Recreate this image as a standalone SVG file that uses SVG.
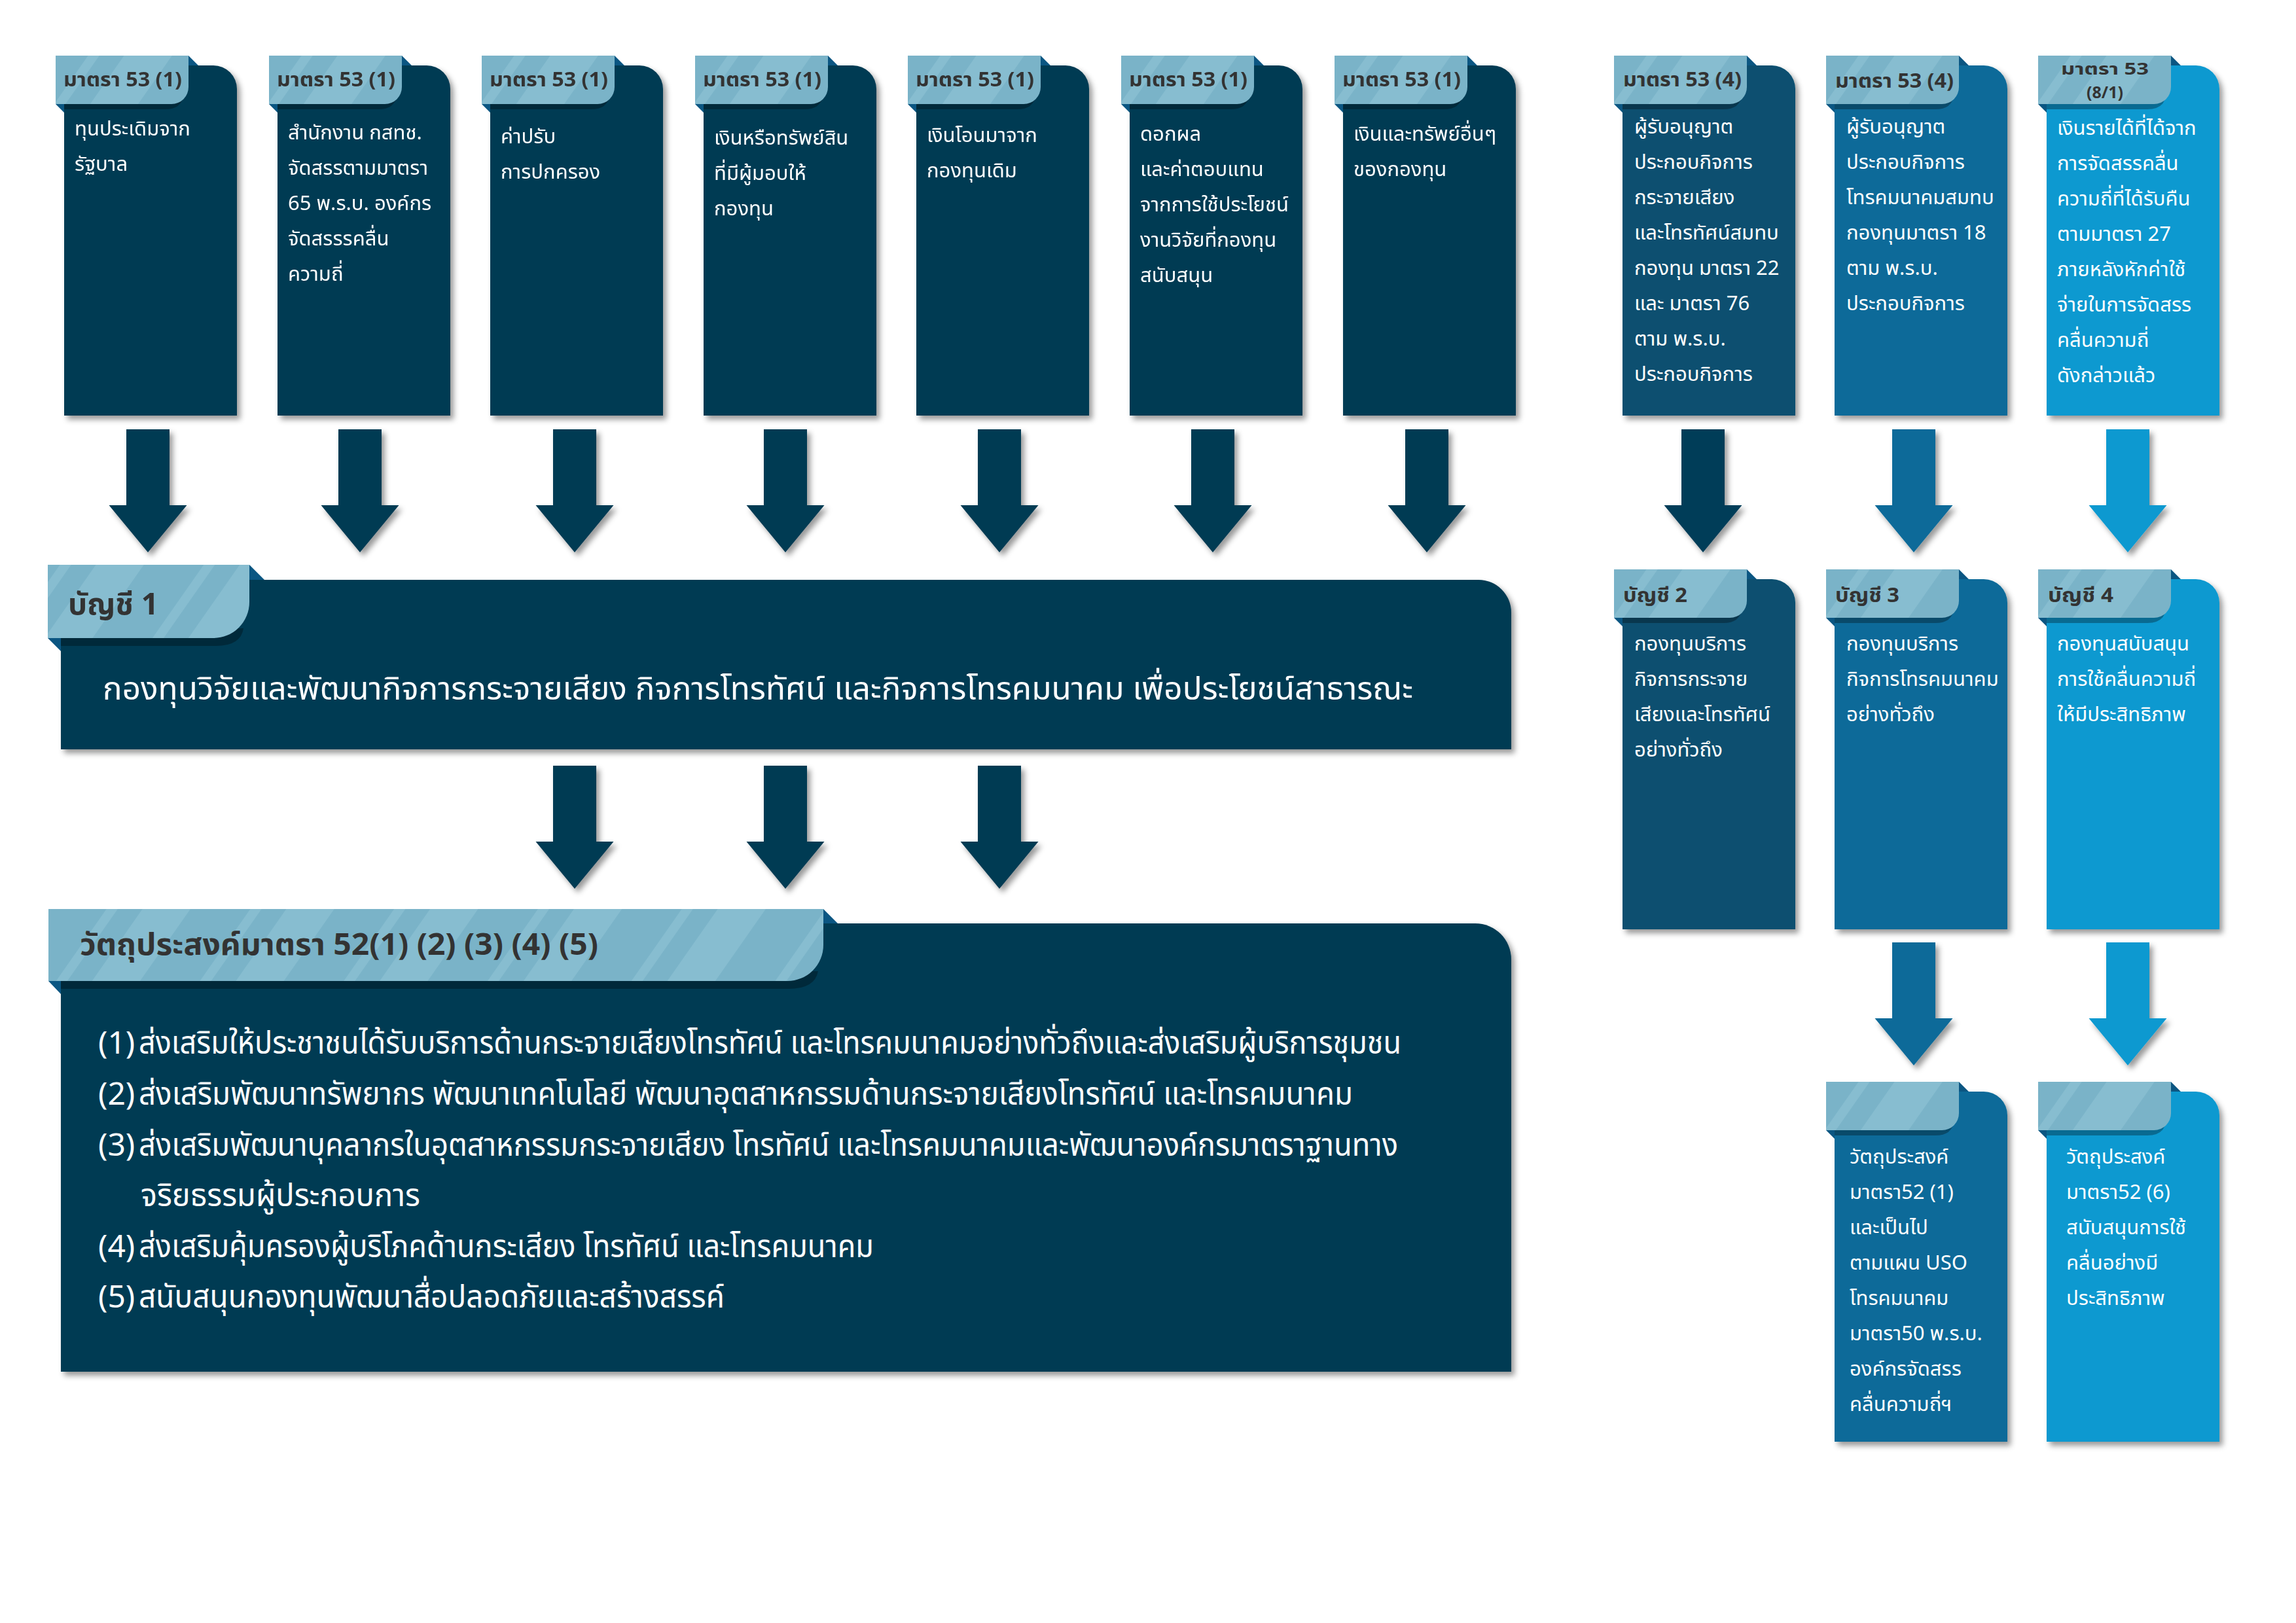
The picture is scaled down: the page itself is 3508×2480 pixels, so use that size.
<svg xmlns="http://www.w3.org/2000/svg" xmlns:xlink="http://www.w3.org/1999/xlink" width="3508" height="2480" viewBox="0 0 3508 2480">
<defs>
<style>
.navy{fill:#063a52}.c2{fill:#074f6f}.c2a{fill:#063e59}.c3{fill:#0b6b99}.c4{fill:#0e99d0}
.tab{fill:url(#stripes)}
.fold{fill:#0b5682}
.strip{fill:#000;opacity:.3}
.sh{filter:url(#ds)}
.lbl{font-family:'Noto Sans Thai','Noto Sans Thai UI','Noto Sans','Liberation Sans',sans-serif;font-weight:700;fill:#333;font-size:30px}
.t{font-family:'Noto Sans Thai','Noto Sans Thai UI','Noto Sans','Liberation Sans',sans-serif;fill:#fff;font-size:31px}
.big{font-size:48px}
.bl{font-size:46px}
.sm{font-size:25px}
</style>
<filter id="ds" x="-10%" y="-10%" width="130%" height="130%">
<feDropShadow dx="5" dy="6" stdDeviation="4" flood-color="#000" flood-opacity="0.4"/>
</filter>
<pattern id="stripes" patternUnits="userSpaceOnUse" width="180" height="600" patternTransform="rotate(35)">
<rect width="180" height="600" fill="#7ab3c8"/>
<rect x="30" width="14" height="600" fill="#87bdd0"/>
<rect x="75" width="60" height="600" fill="#87bdd0"/>
</pattern>
<path id="sbody" d="M0,15 H228 A36,36 0 0 1 264,51 V550 H0 Z"/>
<g id="stab">
<path class="fold" d="M190,0 L205,15 H190 Z M-13,74 H0 V87 Z"/>
<path class="strip" d="M0,60 H182 Q180,82 154,82 H0 Z"/>
<path class="tab" d="M-13,0 H190 V48 A26,26 0 0 1 164,74 H-13 Z"/>
</g>
<path id="arr" d="M-33,0 H33 V116 H59.5 L0,188 L-59.5,116 H-33 Z"/>
</defs>
<rect width="3508" height="2480" fill="#fff"/>

<g id="connectors">
<g class="navy sh">
<use href="#arr" transform="translate(226,656)"/>
<use href="#arr" transform="translate(550,656)"/>
<use href="#arr" transform="translate(878,656)"/>
<use href="#arr" transform="translate(1200,656)"/>
<use href="#arr" transform="translate(1527,656)"/>
<use href="#arr" transform="translate(1853,656)"/>
<use href="#arr" transform="translate(2180,656)"/>
<use href="#arr" transform="translate(878,1170)"/>
<use href="#arr" transform="translate(1200,1170)"/>
<use href="#arr" transform="translate(1527,1170)"/>
</g>
<use href="#arr" class="c2a sh" transform="translate(2602,656)"/>
<use href="#arr" class="c3 sh" transform="translate(2924,656)"/>
<use href="#arr" class="c4 sh" transform="translate(3251,656)"/>
<use href="#arr" class="c3 sh" transform="translate(2924,1440)"/>
<use href="#arr" class="c4 sh" transform="translate(3251,1440)"/>
</g>

<g id="card-1" transform="translate(98,85)">
<use href="#sbody" class="navy sh"/><use href="#stab"/>
<text class="lbl" x="-1" y="47" textLength="181" lengthAdjust="spacingAndGlyphs">มาตรา 53 (1)</text>
<text class="t" x="16" y="122">ทุนประเดิมจาก</text>
<text class="t" x="16" y="176">รัฐบาล</text>
</g>
<g id="card-2" transform="translate(424,85)">
<use href="#sbody" class="navy sh"/><use href="#stab"/>
<text class="lbl" x="-1" y="47" textLength="181" lengthAdjust="spacingAndGlyphs">มาตรา 53 (1)</text>
<text class="t" x="16" y="128">สำนักงาน กสทช.</text>
<text class="t" x="16" y="182">จัดสรรตามมาตรา</text>
<text class="t" x="16" y="236">65 พ.ร.บ. องค์กร</text>
<text class="t" x="16" y="290">จัดสรรรคลื่น</text>
<text class="t" x="16" y="344">ความถี่</text>
</g>
<g id="card-3" transform="translate(749,85)">
<use href="#sbody" class="navy sh"/><use href="#stab"/>
<text class="lbl" x="-1" y="47" textLength="181" lengthAdjust="spacingAndGlyphs">มาตรา 53 (1)</text>
<text class="t" x="16" y="134">ค่าปรับ</text>
<text class="t" x="16" y="188">การปกครอง</text>
</g>
<g id="card-4" transform="translate(1075,85)">
<use href="#sbody" class="navy sh"/><use href="#stab"/>
<text class="lbl" x="-1" y="47" textLength="181" lengthAdjust="spacingAndGlyphs">มาตรา 53 (1)</text>
<text class="t" x="16" y="136">เงินหรือทรัพย์สิน</text>
<text class="t" x="16" y="190">ที่มีผู้มอบให้</text>
<text class="t" x="16" y="244">กองทุน</text>
</g>
<g id="card-5" transform="translate(1400,85)">
<use href="#sbody" class="navy sh"/><use href="#stab"/>
<text class="lbl" x="-1" y="47" textLength="181" lengthAdjust="spacingAndGlyphs">มาตรา 53 (1)</text>
<text class="t" x="16" y="132">เงินโอนมาจาก</text>
<text class="t" x="16" y="186">กองทุนเดิม</text>
</g>
<g id="card-6" transform="translate(1726,85)">
<use href="#sbody" class="navy sh"/><use href="#stab"/>
<text class="lbl" x="-1" y="47" textLength="181" lengthAdjust="spacingAndGlyphs">มาตรา 53 (1)</text>
<text class="t" x="16" y="130">ดอกผล</text>
<text class="t" x="16" y="184">และค่าตอบแทน</text>
<text class="t" x="16" y="238">จากการใช้ประโยชน์</text>
<text class="t" x="16" y="292">งานวิจัยที่กองทุน</text>
<text class="t" x="16" y="346">สนับสนุน</text>
</g>
<g id="card-7" transform="translate(2052,85)">
<use href="#sbody" class="navy sh"/><use href="#stab"/>
<text class="lbl" x="-1" y="47" textLength="181" lengthAdjust="spacingAndGlyphs">มาตรา 53 (1)</text>
<text class="t" x="16" y="130">เงินและทรัพย์อื่นๆ</text>
<text class="t" x="16" y="184">ของกองทุน</text>
</g>

<g id="card-r1" transform="translate(2479,85)">
<use href="#sbody" class="c2 sh"/><use href="#stab"/>
<text class="lbl" x="1" y="47" textLength="181" lengthAdjust="spacingAndGlyphs">มาตรา 53 (4)</text>
<text class="t" x="18" y="119">ผู้รับอนุญาต</text>
<text class="t" x="18" y="173">ประกอบกิจการ</text>
<text class="t" x="18" y="227">กระจายเสียง</text>
<text class="t" x="18" y="281">และโทรทัศน์สมทบ</text>
<text class="t" x="18" y="335">กองทุน มาตรา 22</text>
<text class="t" x="18" y="389">และ มาตรา 76</text>
<text class="t" x="18" y="443">ตาม พ.ร.บ.</text>
<text class="t" x="18" y="497">ประกอบกิจการ</text>
</g>
<g id="card-r2" transform="translate(2803,85)">
<use href="#sbody" class="c3 sh"/><use href="#stab"/>
<text class="lbl" x="1" y="49" textLength="181" lengthAdjust="spacingAndGlyphs">มาตรา 53 (4)</text>
<text class="t" x="18" y="119">ผู้รับอนุญาต</text>
<text class="t" x="18" y="173">ประกอบกิจการ</text>
<text class="t" x="18" y="227">โทรคมนาคมสมทบ</text>
<text class="t" x="18" y="281">กองทุนมาตรา 18</text>
<text class="t" x="18" y="335">ตาม พ.ร.บ.</text>
<text class="t" x="18" y="389">ประกอบกิจการ</text>
</g>
<g id="card-r3" transform="translate(3127,85)">
<use href="#sbody" class="c4 sh"/><use href="#stab"/>
<text class="lbl sm" x="89" y="29" text-anchor="middle" textLength="134" lengthAdjust="spacingAndGlyphs">มาตรา 53</text>
<text class="lbl sm" x="89" y="65" text-anchor="middle">(8/1)</text>
<text class="t" x="16" y="121">เงินรายได้ที่ได้จาก</text>
<text class="t" x="16" y="175">การจัดสรรคลื่น</text>
<text class="t" x="16" y="229">ความถี่ที่ได้รับคืน</text>
<text class="t" x="16" y="283">ตามมาตรา 27</text>
<text class="t" x="16" y="337">ภายหลังหักค่าใช้</text>
<text class="t" x="16" y="391">จ่ายในการจัดสรร</text>
<text class="t" x="16" y="445">คลื่นความถี่</text>
<text class="t" x="16" y="499">ดังกล่าวแล้ว</text>
</g>

<g id="account-1">
<path class="navy sh" d="M93,886 H2259 A50,50 0 0 1 2309,936 V1145 H93 Z"/>
<path class="fold" d="M381,863 L404,886 H381 Z M73,975 H93 V995 Z"/>
<path class="strip" d="M93,960 H372 Q368,987 330,987 H93 Z"/>
<path class="tab" d="M73,863 H381 V920 A55,55 0 0 1 326,975 H73 Z"/>
<text class="lbl bl" x="104" y="939">บัญชี 1</text>
<text class="t big" x="157" y="1069" textLength="2002" lengthAdjust="spacingAndGlyphs">กองทุนวิจัยและพัฒนากิจการกระจายเสียง กิจการโทรทัศน์ และกิจการโทรคมนาคม เพื่อประโยชน์สาธารณะ</text>
</g>

<g id="account-2" transform="translate(2479,870)">
<use href="#sbody" class="c2 sh"/><use href="#stab"/>
<text class="lbl" x="1" y="50" textLength="98" lengthAdjust="spacingAndGlyphs">บัญชี 2</text>
<text class="t" x="18" y="124">กองทุนบริการ</text>
<text class="t" x="18" y="178">กิจการกระจาย</text>
<text class="t" x="18" y="232">เสียงและโทรทัศน์</text>
<text class="t" x="18" y="286">อย่างทั่วถึง</text>
</g>
<g id="account-3" transform="translate(2803,870)">
<use href="#sbody" class="c3 sh"/><use href="#stab"/>
<text class="lbl" x="1" y="50" textLength="98" lengthAdjust="spacingAndGlyphs">บัญชี 3</text>
<text class="t" x="18" y="124">กองทุนบริการ</text>
<text class="t" x="18" y="178">กิจการโทรคมนาคม</text>
<text class="t" x="18" y="232">อย่างทั่วถึง</text>
</g>
<g id="account-4" transform="translate(3127,870)">
<use href="#sbody" class="c4 sh"/><use href="#stab"/>
<text class="lbl" x="2" y="50" textLength="100" lengthAdjust="spacingAndGlyphs">บัญชี 4</text>
<text class="t" x="16" y="124">กองทุนสนับสนุน</text>
<text class="t" x="16" y="178">การใช้คลื่นความถี่</text>
<text class="t" x="16" y="232">ให้มีประสิทธิภาพ</text>
</g>

<g id="objectives">
<path class="navy sh" d="M93,1411 H2254 A55,55 0 0 1 2309,1466 V2096 H93 Z"/>
<path class="fold" d="M1258,1389 L1280,1411 H1258 Z M74,1499 H93 V1519 Z"/>
<path class="strip" d="M93,1484 H1250 Q1245,1511 1205,1511 H93 Z"/>
<path class="tab" d="M74,1389 H1258 V1444 A55,55 0 0 1 1203,1499 H74 Z"/>
<text class="lbl bl" x="122" y="1459" textLength="792" lengthAdjust="spacingAndGlyphs">วัตถุประสงค์มาตรา 52(1) (2) (3) (4) (5)</text>
<text class="t big" x="150" y="1610">(1)</text>
<text class="t big" x="212" y="1610" textLength="1929" lengthAdjust="spacingAndGlyphs">ส่งเสริมให้ประชาชนได้รับบริการด้านกระจายเสียงโทรทัศน์ และโทรคมนาคมอย่างทั่วถึงและส่งเสริมผู้บริการชุมชน</text>
<text class="t big" x="150" y="1688">(2)</text>
<text class="t big" x="212" y="1688" textLength="1855" lengthAdjust="spacingAndGlyphs">ส่งเสริมพัฒนาทรัพยากร พัฒนาเทคโนโลยี พัฒนาอุตสาหกรรมด้านกระจายเสียงโทรทัศน์ และโทรคมนาคม</text>
<text class="t big" x="150" y="1766">(3)</text>
<text class="t big" x="212" y="1766" textLength="1924" lengthAdjust="spacingAndGlyphs">ส่งเสริมพัฒนาบุคลากรในอุตสาหกรรมกระจายเสียง โทรทัศน์ และโทรคมนาคมและพัฒนาองค์กรมาตราฐานทาง</text>
<text class="t big" x="215" y="1843" textLength="427" lengthAdjust="spacingAndGlyphs">จริยธรรมผู้ประกอบการ</text>
<text class="t big" x="150" y="1921">(4)</text>
<text class="t big" x="212" y="1921" textLength="1123" lengthAdjust="spacingAndGlyphs">ส่งเสริมคุ้มครองผู้บริโภคด้านกระเสียง โทรทัศน์ และโทรคมนาคม</text>
<text class="t big" x="150" y="1998">(5)</text>
<text class="t big" x="212" y="1998" textLength="895" lengthAdjust="spacingAndGlyphs">สนับสนุนกองทุนพัฒนาสื่อปลอดภัยและสร้างสรรค์</text>
</g>

<g id="objective-r3" transform="translate(2803,1653)">
<use href="#sbody" class="c3 sh"/><use href="#stab"/>
<text class="t" x="23" y="125">วัตถุประสงค์</text>
<text class="t" x="23" y="179">มาตรา52 (1)</text>
<text class="t" x="23" y="233">และเป็นไป</text>
<text class="t" x="23" y="287">ตามแผน USO</text>
<text class="t" x="23" y="341">โทรคมนาคม</text>
<text class="t" x="23" y="395">มาตรา50 พ.ร.บ.</text>
<text class="t" x="23" y="449">องค์กรจัดสรร</text>
<text class="t" x="23" y="503">คลื่นความถี่ฯ</text>
</g>
<g id="objective-r4" transform="translate(3127,1653)">
<use href="#sbody" class="c4 sh"/><use href="#stab"/>
<text class="t" x="30" y="125">วัตถุประสงค์</text>
<text class="t" x="30" y="179">มาตรา52 (6)</text>
<text class="t" x="30" y="233">สนับสนุนการใช้</text>
<text class="t" x="30" y="287">คลื่นอย่างมี</text>
<text class="t" x="30" y="341">ประสิทธิภาพ</text>
</g>
</svg>
